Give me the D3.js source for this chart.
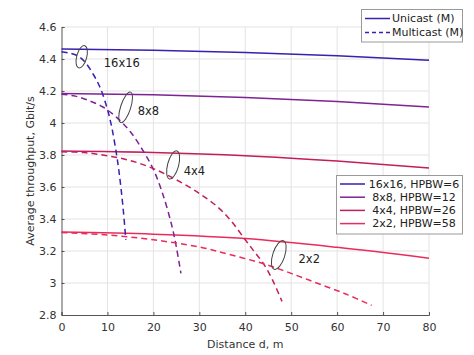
<!DOCTYPE html>
<html><head><meta charset="utf-8">
<script src="https://cdn.jsdelivr.net/npm/d3@7/dist/d3.min.js"></script>
<style>
body{margin:0;background:#fff;}
svg{display:block;font-family:"DejaVu Sans",Verdana,sans-serif;}
</style></head>
<body><svg id="c" width="474" height="355"></svg>
<script>
// ---- data ----
const xTicks = [0,10,20,30,40,50,60,70,80];
const yTicks = [2.8,3,3.2,3.4,3.6,3.8,4,4.2,4.4,4.6];
const seriesNames = ["16x16, HPBW=6","8x8, HPBW=12","4x4, HPBW=26","2x2, HPBW=58"];
const seriesColors = ["#3a1fb0","#7e2296","#c21e5c","#ea2c5c"];
const unicastX = [0,20,40,60,80];
const unicast16 = [4.462,4.455,4.440,4.420,4.392];
const unicast8  = [4.185,4.176,4.160,4.135,4.100];
const unicast4  = [3.825,3.816,3.796,3.762,3.718];
const unicast2  = [3.318,3.305,3.278,3.223,3.155];
const multi16X = [0,2,3.5,5,7,8.5,10,11,12,12.5,13,13.5,14];
const multi16Y = [4.445,4.435,4.42,4.385,4.30,4.215,4.085,3.965,3.80,3.70,3.58,3.44,3.27];
const multi8X = [0,3,6,9,12,15,18,20,22,24,25,26];
const multi8Y = [4.18,4.168,4.14,4.10,4.035,3.945,3.815,3.71,3.56,3.36,3.225,3.06];
const multi4X = [0,5,10,15,20,25,30,34,37,40,42,44,46,48];
const multi4Y = [3.82,3.815,3.795,3.765,3.715,3.645,3.56,3.475,3.385,3.27,3.195,3.12,3.015,2.885];
const multi2X = [0,10,20,30,37,44,50,56,62,67.5];
const multi2Y = [3.315,3.30,3.27,3.225,3.175,3.12,3.06,2.995,2.93,2.86];
const annLabels = ["16x16","8x8","4x4","2x2"];
const annEllX = [4.4,13.96,24.3,47.3];
const annEllY = [4.414,4.098,3.738,3.175];
const annTextX = [9.2,16.6,26.6,51.6];
const annTextY = [4.375,4.075,3.70,3.15];

// ---- layout ----
const svg = d3.select("#c");
const L=61.5, R=429, T=27, B=315;
const x = d3.scaleLinear().domain([0,80]).range([L,R]);
const y = d3.scaleLinear().domain([2.8,4.6]).range([B,T]);

// grid
const g = svg.append("g");
g.selectAll(".gx").data(xTicks.slice(1)).join("line")
  .attr("x1",d=>x(d)).attr("x2",d=>x(d)).attr("y1",T).attr("y2",B)
  .attr("stroke","#e3e3e3").attr("stroke-width",1);
g.selectAll(".gy").data(yTicks.slice(1)).join("line")
  .attr("y1",d=>y(d)).attr("y2",d=>y(d)).attr("x1",L).attr("x2",R)
  .attr("stroke","#e3e3e3").attr("stroke-width",1);

// axes (ticks inward)
const xAxis = svg.append("g").attr("transform",`translate(0,${B})`)
  .call(d3.axisBottom(x).tickValues(xTicks).tickSize(-3).tickPadding(8).tickFormat(d3.format("d")));
const yAxis = svg.append("g").attr("transform",`translate(${L},0)`)
  .call(d3.axisLeft(y).tickValues(yTicks).tickSize(-3).tickPadding(5).tickFormat(d=>String(+d.toFixed(1))));
[xAxis,yAxis].forEach(a=>{
  a.select(".domain").attr("stroke","#555").attr("stroke-width",1);
  a.selectAll(".tick line").attr("stroke","#555");
  a.selectAll("text").attr("fill","#333").style("font-size","11px").style("font-family","DejaVu Sans, sans-serif");
});

// axis labels
svg.append("text").attr("x",(L+R)/2).attr("y",348).attr("text-anchor","middle")
  .attr("fill","#333").style("font-size","11px").text("Distance d, m");
svg.append("text").attr("transform",`translate(34,${(T+B)/2}) rotate(-90)`).attr("text-anchor","middle")
  .attr("fill","#333").style("font-size","11px").text("Average throughput, Gbit/s");

// lines
const line = d3.line().x(d=>x(d[0])).y(d=>y(d[1])).curve(d3.curveMonotoneX);
const uni = [unicast16,unicast8,unicast4,unicast2];
uni.forEach((ys,i)=>{
  svg.append("path").attr("d",line(unicastX.map((v,k)=>[v,ys[k]])))
    .attr("fill","none").attr("stroke",seriesColors[i]).attr("stroke-width",1.5);
});
const mX=[multi16X,multi8X,multi4X,multi2X], mY=[multi16Y,multi8Y,multi4Y,multi2Y];
const lineC = d3.line().x(d=>x(d[0])).y(d=>y(d[1])).curve(d3.curveCatmullRom);
mX.forEach((xs,i)=>{
  svg.append("path").attr("d",lineC(xs.map((v,k)=>[v,mY[i][k]])))
    .attr("fill","none").attr("stroke",seriesColors[i]).attr("stroke-width",1.5)
    .attr("stroke-dasharray","6,4");
});

// annotations
const rx=[5,5,5.5,6], ry=[11.5,16,14.5,15], rot=[15,18,15,18];
annLabels.forEach((t,i)=>{
  svg.append("ellipse").attr("cx",0).attr("cy",0).attr("rx",rx[i]).attr("ry",ry[i])
    .attr("transform",`translate(${x(annEllX[i])},${y(annEllY[i])}) rotate(${rot[i]})`)
    .attr("fill","none").attr("stroke","#444").attr("stroke-width",1);
  svg.append("text").attr("x",x(annTextX[i])).attr("y",y(annTextY[i])).attr("dy","0.35em")
    .attr("fill","#222").style("font-size","11.5px").text(t);
});

// legend 1
const l1 = svg.append("g");
l1.append("rect").attr("x",361.5).attr("y",9.5).attr("width",101).attr("height",32.5)
  .attr("fill","#fff").attr("stroke","#999");
["Unicast (M)","Multicast (M)"].forEach((t,i)=>{
  const yy = 18.5+i*14;
  l1.append("line").attr("x1",365).attr("x2",390).attr("y1",yy).attr("y2",yy)
    .attr("stroke",seriesColors[0]).attr("stroke-width",1.5)
    .attr("stroke-dasharray",i?"4,3":null);
  l1.append("text").attr("x",392).attr("y",yy).attr("dy","0.35em")
    .attr("fill","#222").style("font-size","11px").text(t);
});

// legend 2
const l2 = svg.append("g");
l2.append("rect").attr("x",336.5).attr("y",175.5).attr("width",126).attr("height",58.5)
  .attr("fill","#fff").attr("stroke","#999");
seriesNames.forEach((t,i)=>{
  const yy = 184+i*13.2;
  l2.append("line").attr("x1",340).attr("x2",365).attr("y1",yy).attr("y2",yy)
    .attr("stroke",seriesColors[i]).attr("stroke-width",1.5);
  l2.append("text").attr("x",414).attr("y",yy).attr("dy","0.35em").attr("text-anchor","middle")
    .attr("fill","#222").style("font-size","11px").text(t);
});
</script></body></html>
